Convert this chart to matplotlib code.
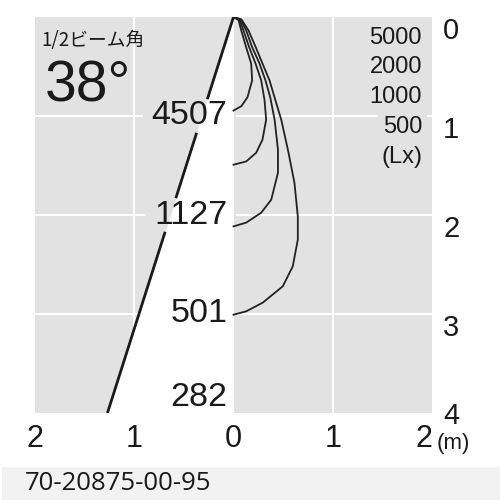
import matplotlib
matplotlib.use('Agg')
import matplotlib.pyplot as plt
from matplotlib import font_manager

# isolux curves (lx): x = lateral distance (m), y = depth (m)
lux_levels = [5000, 2000, 1000, 500]
curve_x = [
    [0, 0.05, 0.078, 0.126, 0.178, 0.188, 0.141, 0.08, 0.01, 0],
    [0, 0.06, 0.10, 0.156, 0.222, 0.279, 0.312, 0.329, 0.292, 0.229, 0.128, 0],
    [0, 0.07, 0.128, 0.186, 0.262, 0.322, 0.370, 0.414, 0.448, 0.448, 0.38, 0.279, 0.128, 0],
    [0, 0.08, 0.151, 0.222, 0.292, 0.363, 0.413, 0.481, 0.548, 0.614, 0.648, 0.648,
     0.597, 0.497, 0.295, 0.128, 0],
]
curve_y = [
    [0, 0.03, 0.135, 0.30, 0.47, 0.64, 0.81, 0.90, 0.94, 0.945],
    [0, 0.025, 0.135, 0.30, 0.47, 0.64, 0.835, 1.037, 1.239, 1.371, 1.459, 1.492],
    [0, 0.025, 0.135, 0.30, 0.47, 0.64, 0.81, 1.037, 1.34, 1.573, 1.846, 1.977, 2.077, 2.115],
    [0, 0.025, 0.135, 0.30, 0.47, 0.64, 0.81, 1.037, 1.34, 1.674, 2.014, 2.249,
     2.519, 2.72, 2.885, 2.973, 3.007],
]

# center illuminance at each depth
center_lux = [4507, 1127, 501, 282]
center_depth = [1.0, 2.0, 3.0, 3.84]

# 1/2 beam angle edge
beam_x = [0, -1.27]
beam_y = [0, 4]
beam_angle = 38

x_ticks = [-2, -1, 0, 1, 2]
x_ticklabels = ['2', '1', '0', '1', '2']
y_ticks = [0, 1, 2, 3, 4]

product_code = '70-20875-00-95'

GRAY = '#e2e2e2'
INK = '#1a1a1a'

names = set(f.name for f in font_manager.fontManager.ttflist)
num_font = 'Liberation Sans' if 'Liberation Sans' in names else 'DejaVu Sans'
narrow_font = 'Liberation Sans Narrow' if 'Liberation Sans Narrow' in names else num_font
plt.rcParams['font.family'] = [num_font, 'Noto Sans CJK JP', 'DejaVu Sans']

fig = plt.figure(figsize=(5, 5), dpi=100)
fig.patch.set_facecolor('white')
ax = fig.add_axes([0.07, 0.174, 0.794, 0.792])
ax.set_facecolor(GRAY)
ax.set_xlim(-2, 2)
ax.set_ylim(4, 0)

# white grid
for gx in [-1, 1]:
    ax.axvline(gx, color='white', lw=1.5, zorder=1)
for gy in [1, 2, 3]:
    ax.axhline(gy, color='white', lw=1.5, zorder=1)

# white cone between beam edge and center line
ax.fill_betweenx(beam_y, beam_x, [0, 0], color='white', lw=0, zorder=2)

# beam edge, broken where it runs behind the first two labels
slope = (beam_x[1] - beam_x[0]) / (beam_y[1] - beam_y[0])
gap = 0.17
stops = [beam_y[0]]
for d in center_depth[:2]:
    stops += [d - gap, d + gap]
stops.append(beam_y[1])
for y0, y1 in zip(stops[::2], stops[1::2]):
    ax.plot([beam_x[0] + slope * y0, beam_x[0] + slope * y1], [y0, y1],
            color=INK, lw=2.0, zorder=4, solid_capstyle='butt')

for xs, ys in zip(curve_x, curve_y):
    ax.plot(xs, ys, color='#222222', lw=1.3, zorder=3, solid_joinstyle='round')

for i, (lux, d) in enumerate(zip(center_lux, center_depth)):
    if i < 3:
        # gray patch under the label hides the grid line, the white cone stays on top
        ax.text(-0.06, d, str(lux), ha='right', va='center', fontsize=24.5,
                color='none', zorder=1.5,
                bbox=dict(boxstyle='square,pad=0.25', fc=GRAY, ec='none'))
    ax.text(-0.06, d, str(lux), ha='right', va='center', fontsize=24.5,
            color=INK, zorder=5)

legend_labels = [str(v) for v in lux_levels] + ['(Lx)']
for i, lab in enumerate(legend_labels):
    ax.text(1.90, 0.21 + 0.30 * i, lab, ha='right', va='center', fontsize=17,
            color=INK, zorder=5,
            bbox=dict(boxstyle='square,pad=0.2', fc=GRAY, ec='none'))

ax.text(-1.94, 0.24, '1/2ビーム角', ha='left', va='center', fontsize=13.5,
        family=['Noto Sans CJK JP', 'DejaVu Sans'], color=INK, zorder=5)
ax.text(-1.90, 0.70, '%d°' % beam_angle, ha='left', va='center', fontsize=41,
        family=[narrow_font, 'DejaVu Sans'], color=INK, zorder=5)

ax.set_xticks(x_ticks)
ax.set_xticklabels(x_ticklabels, fontsize=22, color=INK)
ax.get_xticklabels()[-1].set_ha('right')
ax.yaxis.tick_right()
ax.set_yticks(y_ticks)
ax.set_yticklabels([str(v) for v in y_ticks], fontsize=21, color=INK)
for lab in ax.get_yticklabels()[:-1]:
    lab.set_va('top')
ax.tick_params(axis='x', length=0, pad=8)
ax.tick_params(axis='y', length=0, pad=8)
for s in ax.spines.values():
    s.set_visible(False)

fig.text(0.873, 0.114, '(m)', ha='left', va='center', fontsize=16, color=INK)

# product code band
band = fig.add_axes([0.004, 0.0, 0.996, 0.066])
band.set_facecolor('#f2f2f2')
band.set_xticks([])
band.set_yticks([])
for s in band.spines.values():
    s.set_visible(False)
band.text(0.046, 0.5, product_code, ha='left', va='center', fontsize=18.5,
          family=['Open Sans', 'DejaVu Sans'], color=INK, transform=band.transAxes)

fig.savefig('out.png', dpi=100)
